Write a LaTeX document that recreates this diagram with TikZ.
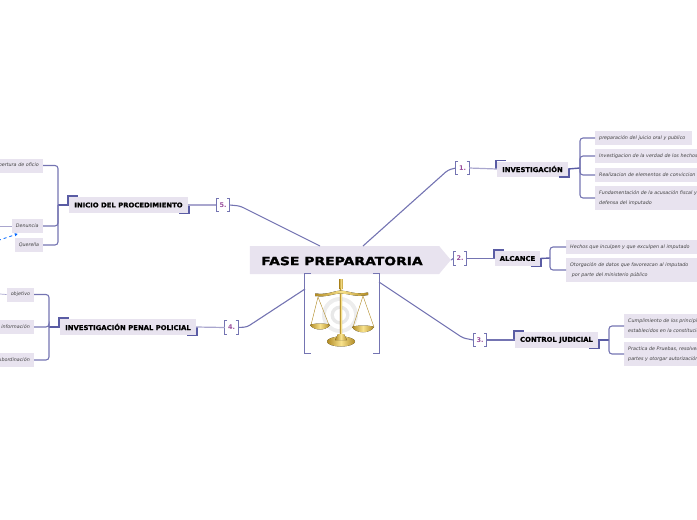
\documentclass[tikz,border=0pt]{standalone}
\usepackage{fontspec}
\setmainfont{DejaVu Sans}
\newfontfamily\titlefont[FakeBold=1.6,FakeStretch=1.22]{DejaVu Sans Bold}
\newfontfamily\topicfont[FakeBold=1.0,FakeStretch=1.04]{DejaVu Sans Bold}
\usetikzlibrary{arrows.meta,shapes.arrows}
\definecolor{lilac}{HTML}{E8E3EF}
\definecolor{branchblue}{HTML}{7474B2}
\definecolor{darkblue}{HTML}{5A5CA4}
\definecolor{palelink}{HTML}{A9A6CE}
\definecolor{numpurple}{HTML}{9A4F9C}
\definecolor{goldD}{HTML}{B08A24}
\definecolor{goldL}{HTML}{F8E28C}
\begin{document}
\begin{tikzpicture}[
    x=1pt, y=-1pt,
    topicbox/.style={fill=lilac, inner sep=0pt, minimum height=15pt, font=\fontsize{6.6}{7}\topicfont},
    leafbox/.style={fill=lilac, inner ysep=0pt, inner xsep=4pt, minimum height=14pt, font=\fontsize{4.8}{10}\selectfont\itshape\color{black!75}},
    numbox/.style={inner sep=0pt, minimum width=13pt, minimum height=13pt, font=\fontsize{6.5}{7}\bfseries\color{numpurple}},
    brk/.style={branchblue, line width=0.9pt},
    cornerline/.style={darkblue, line width=1.5pt},
    spoke/.style={branchblue, line width=1.1pt},
    numlink/.style={palelink, line width=1.2pt},
    stem/.style={darkblue, line width=1.4pt},
    branch/.style={branchblue, line width=1.1pt, rounded corners=3pt},
    gold/.style={left color=goldD, right color=goldD, middle color=goldL}
  ]
    \useasboundingbox (0,0) rectangle (697,520);

    % Main topic and picture frame
    \coordinate (spokeA) at (363,246);
    \coordinate (spokeB) at (320,246);
    \coordinate (spokeC) at (379,282);
    \coordinate (spokeD) at (305,289);
    \node[shape=rectangle, inner sep=0pt, minimum width=74pt, minimum height=79pt] (frame) at (342,313.5) {};
    \node[single arrow, single arrow head extend=0pt, single arrow tip angle=100, fill=lilac, inner sep=0pt,
      minimum height=201pt, minimum width=28pt] (main) at (344.5,260) {};
    \node[font=\fontsize{11.4}{12}\titlefont] (maintext) at (342,261) {FASE PREPARATORIA};

    % Bracket of the picture
    \draw[brk] ([xshift=6pt]frame.north west) -- (frame.north west) -- (frame.south west) -- ([xshift=6pt]frame.south west);
    \draw[brk] ([xshift=-6pt]frame.north east) -- (frame.north east) -- (frame.south east) -- ([xshift=-6pt]frame.south east);

    % Scales
    \fill[black!7] (340,315) circle (18);
    \fill[white] (340,315) circle (14);
    \fill[black!9] (340,315) circle (9.5);
    \fill[white] (340,315) circle (6);
    \draw[goldD, line width=0.4pt] (318,297) -- (311,325) (318,297) -- (329,325);
    \draw[goldD, line width=0.4pt] (363,296) -- (353,327) (363,296) -- (374,327);
    \fill[gold] (310,325) .. controls (314,331) and (326,331) .. (330,325) .. controls (326,323) and (314,323) .. cycle;
    \fill[gold] (352,327) .. controls (356,334) and (370,334) .. (374,327) .. controls (370,325) and (356,325) .. cycle;
    \fill[gold] (339.2,279) rectangle (342.8,288);
    \fill[gold] (339.8,288) rectangle (342.2,336);
    \fill[gold] (315,293.5) .. controls (328,295) and (333,291) .. (341,290.5) .. controls (349,291) and (355,295) .. (368,292.5)
      -- (368,295) .. controls (355,297.5) and (349,293.5) .. (341,293.5) .. controls (333,293.5) and (328,297.5) .. (315,296) -- cycle;
    \fill[gold] (341,341.5) ellipse (14 and 5);
    \fill[gold] (338,334) -- (344,334) -- (347,340) -- (335,340) -- cycle;

    % Spokes from the main topic
    \node[numbox] (n1) at (462.5,168) {1.};
    \node[numbox] (n2) at (460,258.5) {2.};
    \node[numbox] (n3) at (480,340) {3.};
    \node[numbox] (n4) at (231.5,327.5) {4.};
    \node[numbox] (n5) at (223,205) {5.};
    \foreach \n in {n1,n2,n3,n4,n5} {
      \draw[brk] ([xshift=2.5pt]\n.north west) -- (\n.north west) -- (\n.south west) -- ([xshift=2.5pt]\n.south west);
      \draw[brk] ([xshift=-2.5pt]\n.north east) -- (\n.north east) -- (\n.south east) -- ([xshift=-2.5pt]\n.south east);
    }
    \draw[spoke, rounded corners=3pt] (spokeA) -- (448,170) -- (n1.west);
    \draw[spoke] (main.east) -- (n2.west);
    \draw[spoke, rounded corners=3pt] (spokeC) -- (463,338) -- (n3.west);
    \draw[spoke, rounded corners=3pt] (spokeD) -- (247,327) -- (n4.east);
    \draw[spoke, rounded corners=3pt] (spokeB) -- (240,206) -- (n5.east);

    % Topics
    \node[topicbox, minimum width=71pt] (inv) at (532.5,169) {INVESTIGACIÓN};
    \node[topicbox, minimum width=45pt] (alc) at (517.5,258.5) {ALCANCE};
    \node[topicbox, minimum width=83pt, minimum height=16pt] (ctrl) at (556.5,340) {CONTROL JUDICIAL};
    \node[topicbox, minimum width=119pt, minimum height=16pt] (ini) at (128.5,205) {INICIO DEL PROCEDIMIENTO};
    \node[topicbox, minimum width=136pt, minimum height=16pt] (pen) at (128,327) {INVESTIGACIÓN PENAL POLICIAL};
    \foreach \n in {inv,alc,ctrl,ini,pen} {
      \draw[cornerline] ([xshift=-1pt]\n.west) |- ([xshift=9pt,yshift=1pt]\n.north west);
      \draw[cornerline] ([xshift=1pt]\n.east) |- ([xshift=-9pt,yshift=-0.5pt]\n.south east);
    }
    \draw[numlink] (n1.east) -- (inv.west);
    \draw[spoke] (n2.east) -- (alc.west);
    \draw[spoke] (n3.east) -- (ctrl.west);
    \draw[numlink] (ini.east) -- (n5.west);
    \draw[numlink] (pen.east) -- (n4.west);

    % Leaves of INVESTIGACION
    \node[leafbox, anchor=west, text width=89pt, align=left] (a1) at (595,138) {preparación del juicio oral y publico};
    \node[leafbox, anchor=west, text width=120pt, align=left] (a2) at (595,156) {Investigacion de la verdad de los hechos};
    \node[leafbox, anchor=west, text width=120pt, align=left] (a3) at (595,175) {Realizacion de elementos de conviccion};
    \node[leafbox, anchor=west, text width=120pt, minimum height=24pt, align=left] (a4) at (595,198) {Fundamentación de la acusación fiscal y\\defensa del imputado};
    \coordinate (invfork) at (580,168);
    \draw[stem] (inv.east) -- (invfork);
    \foreach \n in {a1,a2,a3,a4} \draw[branch] (invfork) |- (\n.west);

    % Leaves of ALCANCE
    \node[leafbox, anchor=west, text width=123pt, align=left] (b1) at (566,247) {Hechos que inculpen y que exculpen al imputado};
    \node[leafbox, anchor=west, text width=123pt, minimum height=24pt, align=left] (b2) at (566,270) {Otorgación de datos que favorezcan al imputado\\\ por parte del ministerio público};
    \coordinate (alcfork) at (550,258);
    \draw[stem] (alc.east) -- (alcfork);
    \foreach \n in {b1,b2} \draw[branch] (alcfork) |- (\n.west);

    % Leaves of CONTROL JUDICIAL
    \node[leafbox, anchor=west, text width=120pt, minimum height=24pt, align=left] (c1) at (624,326) {Cumplimiento de los principios\\establecidos en la constitución};
    \node[leafbox, anchor=west, text width=120pt, minimum height=24pt, align=left] (c2) at (624,354) {Practica de Pruebas, resolver\\partes y otorgar autorización};
    \coordinate (ctrlfork) at (609,340);
    \draw[stem] (ctrl.east) -- (ctrlfork);
    \foreach \n in {c1,c2} \draw[branch] (ctrlfork) |- (\n.west);

    % Leaves of INICIO DEL PROCEDIMIENTO
    \node[leafbox, anchor=east, text width=70pt, align=right] (d1) at (43,165.5) {Apertura de oficio};
    \node[leafbox, anchor=east, text width=23pt, align=center] (d2) at (43,226) {Denuncia};
    \node[leafbox, anchor=east, text width=20pt, align=center] (d3) at (43,245) {Querella};
    \coordinate (inifork) at (58,205);
    \coordinate (d2out) at (0,226);
    \coordinate (d3out) at (-2,240.5);
    \draw[stem] (ini.west) -- (inifork);
    \foreach \n in {d1,d2,d3} \draw[branch] (inifork) |- (\n.east);
    \draw[numlink, line width=0.7pt] (d2out) -- (d2.west);
    \draw[dashed, blue!60!cyan, line width=0.8pt, -{Latex[length=3pt,width=3.5pt]}] (d3out) -- ([xshift=-11pt,yshift=4pt]d3.north);

    % Leaves of INVESTIGACION PENAL POLICIAL
    \node[leafbox, anchor=east, text width=19pt, align=center] (e1) at (34,294.5) {objetivo};
    \node[leafbox, anchor=east, text width=60pt, align=right] (e2) at (34,327) {información};
    \node[leafbox, anchor=east, text width=60pt, align=right] (e3) at (34,360) {subordinación};
    \coordinate (penfork) at (49,327);
    \coordinate (e1out) at (0,294);
    \draw[stem] (pen.west) -- (penfork);
    \foreach \n in {e1,e2,e3} \draw[branch] (penfork) |- (\n.east);
    \draw[numlink, line width=0.7pt] (e1out) -- (e1.west);

  \end{tikzpicture}
\end{document}
